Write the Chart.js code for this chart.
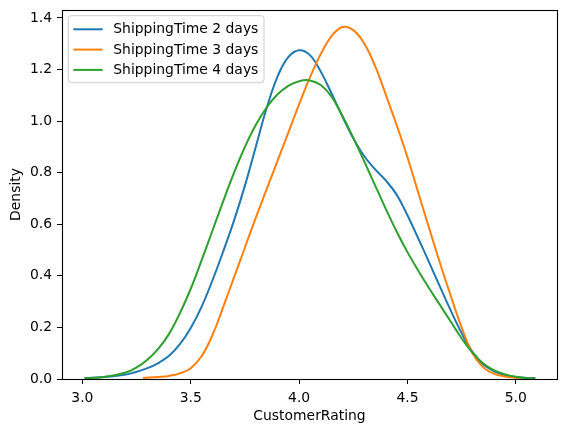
<!DOCTYPE html>
<html>
<head>
<meta charset="utf-8">
<script src="https://cdn.jsdelivr.net/npm/chart.js@4/dist/chart.umd.min.js"></script>
<style>
  html, body { margin: 0; padding: 0; background: #ffffff; }
  #c { display: block; }
</style>
</head>
<body>
<canvas id="c" width="567" height="432"></canvas>
<script>
// ---- data ----
const seriesLabels = ["ShippingTime 2 days", "ShippingTime 3 days", "ShippingTime 4 days"];
const seriesColors = ["#1f77b4", "#ff7f0e", "#2ca02c"];

const rating2 = [3.01, 3.1, 3.2, 3.3, 3.35, 3.4, 3.45, 3.5, 3.55, 3.6, 3.65, 3.7, 3.75, 3.8, 3.85, 3.9, 3.95, 4.0, 4.05, 4.1, 4.15, 4.2, 4.25, 4.3, 4.35, 4.4, 4.45, 4.5, 4.55, 4.6, 4.65, 4.7, 4.75, 4.8, 4.85, 4.9, 4.95, 5.0, 5.05, 5.09];
const density2 = [0.003, 0.008, 0.017, 0.042, 0.062, 0.09, 0.135, 0.198, 0.28, 0.382, 0.495, 0.615, 0.75, 0.9, 1.05, 1.172, 1.248, 1.275, 1.256, 1.192, 1.107, 1.018, 0.934, 0.865, 0.814, 0.77, 0.715, 0.635, 0.545, 0.452, 0.358, 0.265, 0.178, 0.105, 0.056, 0.03, 0.015, 0.008, 0.004, 0.003];

const rating3 = [3.28, 3.35, 3.4, 3.45, 3.5, 3.55, 3.6, 3.65, 3.7, 3.75, 3.8, 3.85, 3.9, 3.95, 4.0, 4.05, 4.1, 4.15, 4.2, 4.25, 4.3, 4.35, 4.4, 4.45, 4.5, 4.55, 4.6, 4.65, 4.7, 4.75, 4.8, 4.85, 4.9, 4.95, 5.0, 5.02];
const density3 = [0.004, 0.008, 0.012, 0.022, 0.042, 0.088, 0.17, 0.28, 0.395, 0.51, 0.625, 0.735, 0.845, 0.955, 1.065, 1.17, 1.26, 1.33, 1.365, 1.353, 1.302, 1.215, 1.103, 0.985, 0.86, 0.722, 0.585, 0.45, 0.322, 0.2, 0.1, 0.045, 0.02, 0.01, 0.005, 0.003];

const rating4 = [3.01, 3.1, 3.2, 3.25, 3.3, 3.35, 3.4, 3.45, 3.5, 3.55, 3.6, 3.65, 3.7, 3.75, 3.8, 3.85, 3.9, 3.95, 4.0, 4.05, 4.1, 4.15, 4.2, 4.25, 4.3, 4.35, 4.4, 4.45, 4.5, 4.55, 4.6, 4.65, 4.7, 4.75, 4.8, 4.85, 4.9, 4.95, 5.0, 5.05, 5.09];
const density4 = [0.003, 0.008, 0.025, 0.045, 0.075, 0.117, 0.175, 0.255, 0.35, 0.46, 0.575, 0.69, 0.8, 0.9, 0.985, 1.053, 1.103, 1.137, 1.155, 1.158, 1.14, 1.095, 1.02, 0.935, 0.845, 0.752, 0.66, 0.572, 0.492, 0.42, 0.352, 0.287, 0.222, 0.158, 0.102, 0.06, 0.033, 0.018, 0.009, 0.004, 0.003];

const xTitle = "CustomerRating";
const yTitle = "Density";

// ---- build chart ----
const FONT = "'DejaVu Sans', sans-serif";
const FS = 13.9;
const toPts = (xs, ys) => xs.map((x, i) => ({ x: x, y: ys[i] }));
const allSeries = [[rating2, density2], [rating3, density3], [rating4, density4]];

const datasets = allSeries.map((s, i) => ({
  label: seriesLabels[i],
  data: toPts(s[0], s[1]),
  borderColor: seriesColors[i],
  backgroundColor: seriesColors[i],
  borderWidth: 2,
  pointRadius: 0,
  fill: false,
  tension: 0.4,
  order: 3 - i
}));

const frame = {
  id: 'frame',
  afterDraw(chart) {
    const ctx = chart.ctx, a = chart.chartArea;
    ctx.save();
    ctx.strokeStyle = '#000';
    ctx.lineWidth = 1.1;
    ctx.strokeRect(a.left + 0.5, a.top + 0.5, a.right - a.left, a.bottom - a.top);
    ctx.restore();
  }
};

const mplLegend = {
  id: 'mplLegend',
  afterDraw(chart) {
    const ctx = chart.ctx, a = chart.chartArea;
    const x0 = a.left + 6.3, y0 = a.top + 5.7, w = 195.7, h = 67, r = 3;
    ctx.save();
    ctx.beginPath();
    ctx.moveTo(x0 + r, y0);
    ctx.lineTo(x0 + w - r, y0);
    ctx.quadraticCurveTo(x0 + w, y0, x0 + w, y0 + r);
    ctx.lineTo(x0 + w, y0 + h - r);
    ctx.quadraticCurveTo(x0 + w, y0 + h, x0 + w - r, y0 + h);
    ctx.lineTo(x0 + r, y0 + h);
    ctx.quadraticCurveTo(x0, y0 + h, x0, y0 + h - r);
    ctx.lineTo(x0, y0 + r);
    ctx.quadraticCurveTo(x0, y0, x0 + r, y0);
    ctx.closePath();
    ctx.fillStyle = 'rgba(255,255,255,0.8)';
    ctx.fill();
    ctx.strokeStyle = '#cccccc';
    ctx.lineWidth = 1;
    ctx.stroke();
    ctx.font = FS + 'px ' + FONT;
    ctx.textBaseline = 'middle';
    ctx.textAlign = 'left';
    chart.data.datasets.forEach((ds, i) => {
      const y = y0 + 13.6 + i * 20.3;
      ctx.strokeStyle = ds.borderColor;
      ctx.lineWidth = 2;
      ctx.beginPath();
      ctx.moveTo(x0 + 5, y);
      ctx.lineTo(x0 + 34.4, y);
      ctx.stroke();
      ctx.fillStyle = '#000';
      ctx.fillText(ds.label, x0 + 45, y + 0.5);
    });
    ctx.restore();
  }
};

new Chart(document.getElementById('c'), {
  type: 'line',
  data: { datasets: datasets },
  options: {
    responsive: false,
    animation: false,
    devicePixelRatio: 1,
    layout: { padding: { top: 10, right: 10, left: 0, bottom: 0 } },
    plugins: { legend: { display: false }, tooltip: { enabled: false } },
    scales: {
      x: {
        type: 'linear',
        min: 2.906,
        max: 5.19,
        afterFit(s) { s.height = 53; s.paddingLeft = 0; s.paddingRight = 0; },
        border: { display: true, color: '#000', width: 1 },
        grid: { drawOnChartArea: false, drawTicks: true, tickLength: 5, tickColor: '#000', tickWidth: 1 },
        ticks: {
          stepSize: 0.5, includeBounds: false, padding: 6, color: '#000',
          font: { family: FONT, size: FS },
          maxRotation: 0,
          callback: v => Number(v).toFixed(1)
        },
        title: { display: true, text: xTitle, color: '#000', font: { family: FONT, size: FS }, padding: { top: 0, bottom: 7 } }
      },
      y: {
        type: 'linear',
        min: 0,
        max: 1.431,
        afterFit(s) { s.width = 62; s.paddingTop = 0; s.paddingBottom = 0; },
        border: { display: true, color: '#000', width: 1 },
        grid: { drawOnChartArea: false, drawTicks: true, tickLength: 5, tickColor: '#000', tickWidth: 1 },
        ticks: {
          stepSize: 0.2, includeBounds: false, padding: 5, color: '#000',
          font: { family: FONT, size: FS },
          callback: v => Number(v).toFixed(1)
        },
        title: { display: true, text: yTitle, color: '#000', font: { family: FONT, size: FS }, padding: { top: 8, bottom: 0 } }
      }
    }
  },
  plugins: [frame, mplLegend]
});
</script>
</body>
</html>
